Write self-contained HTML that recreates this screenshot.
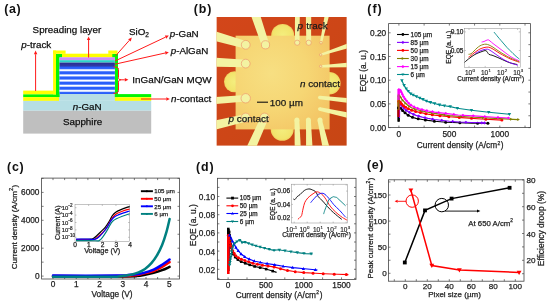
<!DOCTYPE html>
<html><head><meta charset="utf-8"><style>
html,body{margin:0;padding:0;background:#fff;}
svg{display:block;will-change:transform;}
text{font-family:"Liberation Sans", sans-serif;}
</style></head><body>
<svg width="550" height="303" viewBox="0 0 550 303" font-family='"Liberation Sans", sans-serif'>
<rect width="550" height="303" fill="#fff"/>
<g id="pa">
<text x="4.2" y="13.2" font-size="12.4" font-weight="bold" fill="#111" letter-spacing="0.7" >(a)</text>
<rect x="23.2" y="110.5" width="128" height="23.1" fill="#bfbfbf"/>
<rect x="23.2" y="100.4" width="128" height="10.2" fill="#b6dee4"/>
<rect x="56" y="93.5" width="62" height="7.2" fill="#b6dee4"/>
<rect x="23.2" y="90.6" width="33" height="3.9" fill="#ffff00"/>
<rect x="23.2" y="94.4" width="36" height="2.8" fill="#04f404"/>
<rect x="23.2" y="97.1" width="35.8" height="3.7" fill="#ffff00"/>
<rect x="53.1" y="50.5" width="3.0" height="44" fill="#ffff00"/>
<rect x="53.1" y="50.5" width="12.5" height="3.3" fill="#ffff00"/>
<rect x="56.0" y="54.0" width="3.5" height="43" fill="#04f404"/>
<rect x="56.0" y="54.0" width="6.0" height="3.4" fill="#04f404"/>
<rect x="62" y="53.7" width="55.5" height="3.7" fill="#ffff00"/>
<rect x="108.3" y="50.5" width="9.2" height="3.3" fill="#ffff00"/>
<rect x="112.3" y="54.0" width="5.7" height="3.4" fill="#04f404"/>
<rect x="114.9" y="54.0" width="3.1" height="43" fill="#04f404"/>
<rect x="114.9" y="94.1" width="36.3" height="3.1" fill="#04f404"/>
<rect x="114.9" y="97.2" width="36.3" height="3.6" fill="#ffff00"/>
<rect x="59.5" y="57.3" width="55.4" height="3.0" fill="#cc8ef6"/>
<rect x="59.5" y="60.2" width="55.4" height="2.4" fill="#2cd4c8"/>
<defs><linearGradient id="nv" x1="0" y1="0" x2="0" y2="1"><stop offset="0" stop-color="#2a2c8e"/><stop offset="0.7" stop-color="#2e3aa6"/><stop offset="1" stop-color="#2a58f0"/></linearGradient></defs>
<rect x="59.5" y="62.6" width="55.4" height="4.6" fill="url(#nv)"/>
<rect x="59.5" y="67.0" width="55.4" height="27.0" fill="#285efa"/>
<rect x="59.5" y="68.90" width="55.4" height="2.6" fill="#8fb0ff"/>
<rect x="59.5" y="69.50" width="55.4" height="1.4" fill="#ffffff"/>
<rect x="59.5" y="74.10" width="55.4" height="2.6" fill="#8fb0ff"/>
<rect x="59.5" y="74.70" width="55.4" height="1.4" fill="#ffffff"/>
<rect x="59.5" y="79.30" width="55.4" height="2.6" fill="#8fb0ff"/>
<rect x="59.5" y="79.90" width="55.4" height="1.4" fill="#ffffff"/>
<rect x="59.5" y="84.40" width="55.4" height="2.6" fill="#8fb0ff"/>
<rect x="59.5" y="85.00" width="55.4" height="1.4" fill="#ffffff"/>
<rect x="59.5" y="89.50" width="55.4" height="2.6" fill="#8fb0ff"/>
<rect x="59.5" y="90.10" width="55.4" height="1.4" fill="#ffffff"/>
<text x="32.6" y="33.1" font-size="9.8" stroke="#222" stroke-width="0.25" >Spreading layer</text>
<text x="21.3" y="48.4" font-size="9.8" stroke="#222" stroke-width="0.25" ><tspan font-style="italic">p</tspan>-track</text>
<text x="129" y="34.9" font-size="9.8" stroke="#222" stroke-width="0.25" >SiO<tspan font-size="6.5" dy="2.4">2</tspan></text>
<text x="169.8" y="36.9" font-size="9.8" stroke="#222" stroke-width="0.25" ><tspan font-style="italic">p</tspan>-GaN</text>
<text x="170.7" y="53.7" font-size="9.8" stroke="#222" stroke-width="0.25" ><tspan font-style="italic">p</tspan>-AlGaN</text>
<text x="132.3" y="83.1" font-size="9.85" stroke="#222" stroke-width="0.25" >InGaN/GaN MQW</text>
<text x="171.0" y="102.1" font-size="9.8" stroke="#222" stroke-width="0.25" ><tspan font-style="italic">n</tspan>-contact</text>
<text x="87.2" y="109.8" font-size="9.8" text-anchor="middle" stroke="#222" stroke-width="0.25" ><tspan font-style="italic">n</tspan>-GaN</text>
<text x="82.6" y="125.4" font-size="9.8" text-anchor="middle" stroke="#222" stroke-width="0.25" >Sapphire</text>
<path d="M88.60,57.50 L88.60,40.00" stroke="#ff1a1a" stroke-width="1.0" fill="none"/>
<path d="M88.60,36.40 L90.30,40.00 L86.90,40.00Z" fill="#ff1a1a"/>
<path d="M35.60,91.00 L35.60,54.20" stroke="#ff1a1a" stroke-width="1.0" fill="none"/>
<path d="M35.60,50.60 L37.30,54.20 L33.90,54.20Z" fill="#ff1a1a"/>
<path d="M115.60,55.80 L129.41,40.29" stroke="#ff1a1a" stroke-width="1.0" fill="none"/>
<path d="M131.80,37.60 L130.68,41.42 L128.14,39.16Z" fill="#ff1a1a"/>
<path d="M115.00,61.00 L165.54,37.14" stroke="#ff1a1a" stroke-width="1.0" fill="none"/>
<path d="M168.80,35.60 L166.27,38.67 L164.82,35.60Z" fill="#ff1a1a"/>
<path d="M115.00,64.20 L165.29,52.98" stroke="#ff1a1a" stroke-width="1.0" fill="none"/>
<path d="M168.80,52.20 L165.66,54.64 L164.92,51.32Z" fill="#ff1a1a"/>
<path d="M141.00,99.00 L166.30,99.00" stroke="#ff1a1a" stroke-width="1.0" fill="none"/>
<path d="M169.90,99.00 L166.30,100.70 L166.30,97.30Z" fill="#ff1a1a"/>
<path d="M113.5,66.8 C116.5,66.8 118.5,67.2 118.5,69.5 L118.5,77.5 C118.5,79.5 119.5,79.8 121,79.8 C119.5,79.8 118.5,80.2 118.5,82.2 L118.5,90.5 C118.5,92.8 116.5,93.4 113.5,93.4" stroke="#ff1a1a" stroke-width="1.0" fill="none"/>
<path d="M120.80,79.80 L124.80,79.80" stroke="#ff1a1a" stroke-width="1.0" fill="none"/>
<path d="M128.40,79.80 L124.80,81.50 L124.80,78.10Z" fill="#ff1a1a"/>
</g>
<g id="pb">
<text x="193.7" y="13.4" font-size="12.4" font-weight="bold" fill="#111" letter-spacing="0.9" >(b)</text>
<defs><clipPath id="cpb"><rect x="216.4" y="16.9" width="130.4" height="128.9"/></clipPath><linearGradient id="bgb" x1="0" y1="0" x2="1" y2="1"><stop offset="0" stop-color="#d3461a"/><stop offset="1" stop-color="#c74614"/></linearGradient><radialGradient id="msb" cx="0.38" cy="0.4" r="0.78"><stop offset="0" stop-color="#f7df82"/><stop offset="0.5" stop-color="#f6d674"/><stop offset="1" stop-color="#f3c262"/></radialGradient><radialGradient id="blb" cx="0.5" cy="0.5" r="0.5"><stop offset="0" stop-color="#f4ee7e"/><stop offset="0.85" stop-color="#f2e46c"/><stop offset="1" stop-color="#f0d060"/></radialGradient></defs>
<g clip-path="url(#cpb)">
<rect x="216.4" y="16.9" width="130.4" height="128.9" fill="url(#bgb)"/>
<circle cx="282.7" cy="35.5" r="11.5" fill="url(#blb)"/>
<circle cx="234.5" cy="81.8" r="10.5" fill="url(#blb)"/>
<circle cx="329.3" cy="83.2" r="11.3" fill="url(#blb)"/>
<circle cx="282.2" cy="129.3" r="11.5" fill="url(#blb)"/>
<rect x="235.6" y="35.7" width="94.0" height="93.7" fill="url(#msb)"/>
<path d="M210.68,39.82 L244.67,48.41 L246.73,41.19 L213.32,30.58Z" fill="#f3f3a2"/>
<path d="M211.80,66.60 L245.53,67.35 L245.87,59.85 L212.20,57.60Z" fill="#f3f3a2"/>
<path d="M250.23,13.43 L261.94,45.99 L269.06,43.61 L258.77,10.57Z" fill="#f3f3a2"/>
<path d="M212.25,104.19 L245.93,101.54 L245.47,95.06 L211.75,97.21Z" fill="#f3f3a2"/>
<path d="M213.04,130.18 L246.57,121.45 L244.83,114.15 L210.96,121.42Z" fill="#f3f3a2"/>
<path d="M254.31,151.84 L268.02,119.33 L261.18,116.27 L246.09,148.16Z" fill="#f3f3a2"/>
<path d="M295.00,11.98 L294.90,42.69 L299.50,42.71 L299.80,12.02Z" fill="#f3f3a2"/>
<path d="M305.80,12.02 L306.30,42.72 L311.10,42.68 L311.20,11.98Z" fill="#f3f3a2"/>
<path d="M325.35,11.52 L319.92,42.47 L322.08,42.93 L329.85,12.48Z" fill="#f3f3a2"/>
<path d="M351.19,42.03 L320.39,53.85 L321.01,55.75 L352.81,46.97Z" fill="#f3f3a2"/>
<path d="M351.88,62.30 L320.64,65.20 L320.76,67.40 L352.12,67.10Z" fill="#f3f3a2"/>
<path d="M352.27,98.51 L319.88,95.81 L319.52,99.19 L351.73,103.49Z" fill="#f3f3a2"/>
<path d="M352.59,113.41 L320.06,107.34 L319.34,110.66 L351.41,118.79Z" fill="#f3f3a2"/>
<path d="M300.90,149.91 L299.30,120.03 L294.50,120.17 L294.70,150.09Z" fill="#f3f3a2"/>
<path d="M312.70,149.89 L310.80,120.02 L306.00,120.18 L306.10,150.11Z" fill="#f3f3a2"/>
<path d="M330.01,149.21 L321.89,119.59 L317.51,120.61 L323.19,150.79Z" fill="#f3f3a2"/>
<circle cx="245.7" cy="44.8" r="4.4" fill="#f3f3a2" stroke="#ec8a66" stroke-width="0.6"/>
<circle cx="245.7" cy="63.6" r="4.4" fill="#f3f3a2" stroke="#ec8a66" stroke-width="0.6"/>
<circle cx="265.5" cy="44.8" r="4.1" fill="#f3f3a2" stroke="#ec8a66" stroke-width="0.6"/>
<circle cx="245.7" cy="98.3" r="4.7" fill="#f3f3a2" stroke="#ec8a66" stroke-width="0.6"/>
<circle cx="245.7" cy="117.8" r="4.7" fill="#f3f3a2" stroke="#ec8a66" stroke-width="0.6"/>
<circle cx="264.6" cy="117.8" r="4.7" fill="#f3f3a2" stroke="#ec8a66" stroke-width="0.6"/>
<circle cx="297.2" cy="42.7" r="2.6" fill="#f3f3a2" stroke="#ec8a66" stroke-width="0.6"/>
<circle cx="308.7" cy="42.7" r="2.6" fill="#f3f3a2" stroke="#ec8a66" stroke-width="0.6"/>
<circle cx="321.0" cy="42.7" r="1.3" fill="#f3f3a2" stroke="#ec8a66" stroke-width="0.6"/>
<circle cx="320.7" cy="54.8" r="1.2" fill="#f3f3a2" stroke="#ec8a66" stroke-width="0.6"/>
<circle cx="320.7" cy="66.3" r="1.2" fill="#f3f3a2" stroke="#ec8a66" stroke-width="0.6"/>
<circle cx="319.7" cy="97.5" r="1.7" fill="#f3f3a2"/>
<circle cx="319.7" cy="109.0" r="1.7" fill="#f3f3a2"/>
<circle cx="296.9" cy="120.1" r="2.5" fill="#f3f3a2"/>
<circle cx="308.4" cy="120.1" r="2.5" fill="#f3f3a2"/>
<circle cx="320.0" cy="120.1" r="2.5" fill="#f3f3a2"/>
</g>
<text x="297.6" y="29.2" font-size="9.9" fill="#1a1a1a" stroke="#1a1a1a" stroke-width="0.25" word-spacing="0.5"><tspan font-style="italic">p</tspan> track</text>
<text x="299.9" y="87.0" font-size="9.9" fill="#1a1a1a" stroke="#1a1a1a" stroke-width="0.25" ><tspan font-style="italic">n</tspan> contact</text>
<text x="228.6" y="122.4" font-size="9.9" fill="#1a1a1a" stroke="#1a1a1a" stroke-width="0.25" ><tspan font-style="italic">p</tspan> contact</text>
<path d="M257.0,102.2 H268.0" stroke="#111" stroke-width="1.1"/>
<text x="269.8" y="105.8" font-size="9.9" fill="#1a1a1a" stroke="#1a1a1a" stroke-width="0.25" >100 µm</text>
</g>
<g id="pc">
<text x="7.1" y="170.6" font-size="12.4" font-weight="bold" fill="#111" letter-spacing="0.7" >(c)</text>
<rect x="41.6" y="178.1" width="137.9" height="100.9" fill="none" stroke="#444" stroke-width="0.8"/>
<path d="M41.6,276.10 h2.0 M179.5,276.10 h-2.0 M41.6,262.15 h2.0 M179.5,262.15 h-2.0 M41.6,248.20 h2.0 M179.5,248.20 h-2.0 M41.6,234.25 h2.0 M179.5,234.25 h-2.0 M41.6,220.30 h2.0 M179.5,220.30 h-2.0 M41.6,206.35 h2.0 M179.5,206.35 h-2.0 M41.6,192.40 h2.0 M179.5,192.40 h-2.0 M41.6,178.45 h2.0 M179.5,178.45 h-2.0 " stroke="#444" stroke-width="0.7" fill="none"/>
<path d="M53.00,279.0 v-2.0 M53.00,178.1 v2.0 M64.62,279.0 v-2.0 M64.62,178.1 v2.0 M76.25,279.0 v-2.0 M76.25,178.1 v2.0 M87.88,279.0 v-2.0 M87.88,178.1 v2.0 M99.50,279.0 v-2.0 M99.50,178.1 v2.0 M111.12,279.0 v-2.0 M111.12,178.1 v2.0 M122.75,279.0 v-2.0 M122.75,178.1 v2.0 M134.38,279.0 v-2.0 M134.38,178.1 v2.0 M146.00,279.0 v-2.0 M146.00,178.1 v2.0 M157.62,279.0 v-2.0 M157.62,178.1 v2.0 M169.25,279.0 v-2.0 M169.25,178.1 v2.0 " stroke="#444" stroke-width="0.7" fill="none"/>
<text x="39.5" y="279.1" font-size="8.3" text-anchor="end" fill="#1e1e1e" stroke="#1e1e1e" stroke-width="0.25" >0</text>
<text x="39.5" y="251.20000000000002" font-size="8.3" text-anchor="end" fill="#1e1e1e" stroke="#1e1e1e" stroke-width="0.25" >2000</text>
<text x="39.5" y="223.3" font-size="8.3" text-anchor="end" fill="#1e1e1e" stroke="#1e1e1e" stroke-width="0.25" >4000</text>
<text x="39.5" y="195.40000000000003" font-size="8.3" text-anchor="end" fill="#1e1e1e" stroke="#1e1e1e" stroke-width="0.25" >6000</text>
<text x="53.0" y="287.4" font-size="8.3" text-anchor="middle" fill="#1e1e1e" stroke="#1e1e1e" stroke-width="0.25" >0</text>
<text x="76.25" y="287.4" font-size="8.3" text-anchor="middle" fill="#1e1e1e" stroke="#1e1e1e" stroke-width="0.25" >1</text>
<text x="99.5" y="287.4" font-size="8.3" text-anchor="middle" fill="#1e1e1e" stroke="#1e1e1e" stroke-width="0.25" >2</text>
<text x="122.75" y="287.4" font-size="8.3" text-anchor="middle" fill="#1e1e1e" stroke="#1e1e1e" stroke-width="0.25" >3</text>
<text x="146.0" y="287.4" font-size="8.3" text-anchor="middle" fill="#1e1e1e" stroke="#1e1e1e" stroke-width="0.25" >4</text>
<text x="169.25" y="287.4" font-size="8.3" text-anchor="middle" fill="#1e1e1e" stroke="#1e1e1e" stroke-width="0.25" >5</text>
<text x="112.0" y="296.8" font-size="8.3" text-anchor="middle" fill="#1e1e1e" stroke="#1e1e1e" stroke-width="0.25" >Voltage (V)</text>
<text x="17.0" y="227.0" font-size="8.1" text-anchor="middle" fill="#1e1e1e" stroke="#1e1e1e" stroke-width="0.25" transform="rotate(-90 17.0 227.0)" >Current density (A/cm<tspan font-size="5.0" dy="-3.6" dx="0.3">2</tspan><tspan dy="3.6" dx="0.6">)</tspan></text>
<path d="M53.00,276.40 C65.50,276.40 114.17,276.47 128.00,276.40 C141.83,276.33 133.33,276.25 136.00,276.00 C138.67,275.75 141.07,275.42 144.00,274.90 C146.93,274.38 150.58,273.68 153.60,272.90 C156.62,272.12 159.43,271.20 162.10,270.20 C164.77,269.20 168.35,267.45 169.60,266.90" stroke="#000000" stroke-width="2.5" fill="none" stroke-linejoin="round" stroke-linecap="round"/>
<path d="M53.00,276.10 C64.50,276.10 109.00,276.18 122.00,276.10 C135.00,276.02 128.00,275.88 131.00,275.60 C134.00,275.32 137.33,274.85 140.00,274.40 C142.67,273.95 144.73,273.47 147.00,272.90 C149.27,272.33 151.08,272.00 153.60,271.00 C156.12,270.00 159.43,268.38 162.10,266.90 C164.77,265.42 168.35,262.90 169.60,262.10" stroke="#ff0000" stroke-width="2.5" fill="none" stroke-linejoin="round" stroke-linecap="round"/>
<path d="M53.00,275.60 C63.83,275.60 105.50,275.68 118.00,275.60 C130.50,275.52 125.00,275.33 128.00,275.10 C131.00,274.87 133.52,274.53 136.00,274.20 C138.48,273.87 139.97,273.87 142.90,273.10 C145.83,272.33 150.40,271.00 153.60,269.60 C156.80,268.20 159.43,266.38 162.10,264.70 C164.77,263.02 168.35,260.37 169.60,259.50" stroke="#0000ff" stroke-width="2.5" fill="none" stroke-linejoin="round" stroke-linecap="round"/>
<path d="M53.00,276.80 C62.50,276.80 99.17,276.85 110.00,276.80 C120.83,276.75 115.33,276.70 118.00,276.50 C120.67,276.30 123.65,275.93 126.00,275.60 C128.35,275.27 130.00,275.03 132.10,274.50 C134.20,273.97 136.45,273.32 138.60,272.40 C140.75,271.48 142.87,270.53 145.00,269.00 C147.13,267.47 149.43,265.42 151.40,263.20 C153.37,260.98 155.02,258.73 156.80,255.70 C158.58,252.67 160.50,248.93 162.10,245.00 C163.70,241.07 165.15,236.43 166.40,232.10 C167.65,227.77 169.07,221.18 169.60,219.00" stroke="#008080" stroke-width="2.5" fill="none" stroke-linejoin="round" stroke-linecap="round"/>
<path d="M140.9,191.2 H152.9" stroke="#000000" stroke-width="1.9"/>
<circle cx="146.90" cy="191.20" r="1.0" fill="#000000"/>
<text x="154.3" y="193.39999999999998" font-size="6.1" fill="#1e1e1e" stroke="#1e1e1e" stroke-width="0.25" >105 µm</text>
<path d="M140.9,198.8 H152.9" stroke="#ff0000" stroke-width="1.9"/>
<circle cx="146.90" cy="198.80" r="1.0" fill="#ff0000"/>
<text x="154.3" y="201.0" font-size="6.1" fill="#1e1e1e" stroke="#1e1e1e" stroke-width="0.25" >50 µm</text>
<path d="M140.9,206.3 H152.9" stroke="#0000ff" stroke-width="1.9"/>
<circle cx="146.90" cy="206.30" r="1.0" fill="#0000ff"/>
<text x="154.3" y="208.5" font-size="6.1" fill="#1e1e1e" stroke="#1e1e1e" stroke-width="0.25" >25 µm</text>
<path d="M140.9,213.9 H152.9" stroke="#008080" stroke-width="1.9"/>
<circle cx="146.90" cy="213.90" r="1.0" fill="#008080"/>
<text x="154.3" y="216.1" font-size="6.1" fill="#1e1e1e" stroke="#1e1e1e" stroke-width="0.25" >6 µm</text>
<rect x="75.0" y="204.5" width="54.599999999999994" height="36.900000000000006" fill="none" stroke="#8a8a8a" stroke-width="0.5"/>
<path d="M88.65,241.4 v-1.5 M88.65,204.5 v1.5 M102.30,241.4 v-1.5 M102.30,204.5 v1.5 M115.95,241.4 v-1.5 M115.95,204.5 v1.5 " stroke="#888" stroke-width="0.5" fill="none"/>
<path d="M75.0,207.70 h1.5 M129.6,207.70 h-1.5 M75.0,215.10 h1.5 M129.6,215.10 h-1.5 M75.0,222.50 h1.5 M129.6,222.50 h-1.5 M75.0,229.90 h1.5 M129.6,229.90 h-1.5 M75.0,237.30 h1.5 M129.6,237.30 h-1.5 " stroke="#888" stroke-width="0.5" fill="none"/>
<text x="61.8" y="209.80" font-size="5.9" fill="#1e1e1e" stroke="#1e1e1e" stroke-width="0.2">10<tspan font-size="4.6" dy="-2.5">-2</tspan></text>
<text x="61.8" y="217.20" font-size="5.9" fill="#1e1e1e" stroke="#1e1e1e" stroke-width="0.2">10<tspan font-size="4.6" dy="-2.5">-4</tspan></text>
<text x="61.8" y="224.60" font-size="5.9" fill="#1e1e1e" stroke="#1e1e1e" stroke-width="0.2">10<tspan font-size="4.6" dy="-2.5">-6</tspan></text>
<text x="61.8" y="232.00" font-size="5.9" fill="#1e1e1e" stroke="#1e1e1e" stroke-width="0.2">10<tspan font-size="4.6" dy="-2.5">-8</tspan></text>
<text x="61.8" y="239.40" font-size="5.9" fill="#1e1e1e" stroke="#1e1e1e" stroke-width="0.2">10<tspan font-size="4.6" dy="-2.5">-10</tspan></text>
<text x="75.0" y="247.0" font-size="6.6" text-anchor="middle" fill="#1e1e1e" stroke="#1e1e1e" stroke-width="0.25" >0</text>
<text x="88.75" y="247.0" font-size="6.6" text-anchor="middle" fill="#1e1e1e" stroke="#1e1e1e" stroke-width="0.25" >1</text>
<text x="102.5" y="247.0" font-size="6.6" text-anchor="middle" fill="#1e1e1e" stroke="#1e1e1e" stroke-width="0.25" >2</text>
<text x="116.25" y="247.0" font-size="6.6" text-anchor="middle" fill="#1e1e1e" stroke="#1e1e1e" stroke-width="0.25" >3</text>
<text x="130.0" y="247.0" font-size="6.6" text-anchor="middle" fill="#1e1e1e" stroke="#1e1e1e" stroke-width="0.25" >4</text>
<text x="102.2" y="253.3" font-size="7.3" text-anchor="middle" fill="#1e1e1e" stroke="#1e1e1e" stroke-width="0.25" >Voltage (V)</text>
<text x="59.6" y="222.7" font-size="7.0" text-anchor="middle" fill="#1e1e1e" stroke="#1e1e1e" stroke-width="0.25" transform="rotate(-90 59.6 222.7)" >Current (A)</text>
<path d="M76.00,239.60 C77.50,239.55 82.50,239.37 85.00,239.30 C87.50,239.23 89.62,239.32 91.00,239.20 C92.38,239.08 92.27,239.25 93.30,238.60 C94.33,237.95 95.88,236.50 97.20,235.30 C98.52,234.10 99.87,232.72 101.20,231.40 C102.53,230.08 103.88,229.05 105.20,227.40 C106.52,225.75 107.90,223.48 109.10,221.50 C110.30,219.52 111.30,217.05 112.40,215.50 C113.50,213.95 114.27,213.18 115.70,212.20 C117.13,211.22 119.02,210.45 121.00,209.60 C122.98,208.75 126.17,207.62 127.60,207.10 C129.03,206.58 129.27,206.60 129.60,206.50" stroke="#000000" stroke-width="1.2" fill="none"/>
<path d="M76.00,239.80 C78.00,239.77 84.90,239.68 88.00,239.60 C91.10,239.52 92.83,239.87 94.60,239.30 C96.37,238.73 97.28,237.30 98.60,236.20 C99.92,235.10 101.18,234.07 102.50,232.70 C103.82,231.33 105.28,229.77 106.50,228.00 C107.72,226.23 108.70,223.95 109.80,222.10 C110.90,220.25 111.90,218.32 113.10,216.90 C114.30,215.48 115.47,214.55 117.00,213.60 C118.53,212.65 120.20,211.97 122.30,211.20 C124.40,210.43 128.38,209.37 129.60,209.00" stroke="#ff0000" stroke-width="1.2" fill="none"/>
<path d="M76.00,239.20 C78.00,239.18 84.78,239.10 88.00,239.10 C91.22,239.10 93.32,239.72 95.30,239.20 C97.28,238.68 98.45,237.28 99.90,236.00 C101.35,234.72 102.68,233.15 104.00,231.50 C105.32,229.85 106.73,227.77 107.80,226.10 C108.87,224.43 109.42,222.93 110.40,221.50 C111.38,220.07 112.38,218.60 113.70,217.50 C115.02,216.40 116.65,215.67 118.30,214.90 C119.95,214.13 121.72,213.55 123.60,212.90 C125.48,212.25 128.60,211.32 129.60,211.00" stroke="#0000ff" stroke-width="1.2" fill="none"/>
<path d="M76.00,240.60 C78.33,240.60 86.42,240.57 90.00,240.60 C93.58,240.63 95.97,240.80 97.50,240.80 C99.03,240.80 98.37,241.18 99.20,240.60 C100.03,240.02 101.28,238.83 102.50,237.30 C103.72,235.77 105.28,233.38 106.50,231.40 C107.72,229.42 108.82,227.05 109.80,225.40 C110.78,223.75 111.30,222.60 112.40,221.50 C113.50,220.40 114.75,219.68 116.40,218.80 C118.05,217.92 120.10,217.05 122.30,216.20 C124.50,215.35 128.38,214.12 129.60,213.70" stroke="#008080" stroke-width="1.2" fill="none"/>
</g>
<g id="pd">
<text x="196.0" y="170.7" font-size="12.4" font-weight="bold" fill="#111" letter-spacing="0.9" >(d)</text>
<rect x="217.5" y="178.3" width="138.5" height="101.09999999999997" fill="none" stroke="#444" stroke-width="0.8"/>
<path d="M217.4,278.40 h2.0 M356.0,278.40 h-2.0 M217.4,269.30 h2.0 M356.0,269.30 h-2.0 M217.4,260.20 h2.0 M356.0,260.20 h-2.0 M217.4,251.10 h2.0 M356.0,251.10 h-2.0 M217.4,242.00 h2.0 M356.0,242.00 h-2.0 M217.4,232.90 h2.0 M356.0,232.90 h-2.0 M217.4,223.80 h2.0 M356.0,223.80 h-2.0 M217.4,214.70 h2.0 M356.0,214.70 h-2.0 M217.4,205.60 h2.0 M356.0,205.60 h-2.0 M217.4,196.50 h2.0 M356.0,196.50 h-2.0 M217.4,187.40 h2.0 M356.0,187.40 h-2.0 " stroke="#444" stroke-width="0.7" fill="none"/>
<path d="M228.10,279.4 v-2.0 M228.10,178.3 v2.0 M247.00,279.4 v-2.0 M247.00,178.3 v2.0 M265.90,279.4 v-2.0 M265.90,178.3 v2.0 M284.80,279.4 v-2.0 M284.80,178.3 v2.0 M303.70,279.4 v-2.0 M303.70,178.3 v2.0 M322.60,279.4 v-2.0 M322.60,178.3 v2.0 M341.50,279.4 v-2.0 M341.50,178.3 v2.0 " stroke="#444" stroke-width="0.7" fill="none"/>
<text x="215.0" y="272.7" font-size="8.3" text-anchor="end" fill="#1e1e1e" stroke="#1e1e1e" stroke-width="0.25" >0.02</text>
<text x="215.0" y="254.50000000000003" font-size="8.3" text-anchor="end" fill="#1e1e1e" stroke="#1e1e1e" stroke-width="0.25" >0.04</text>
<text x="215.0" y="236.30000000000004" font-size="8.3" text-anchor="end" fill="#1e1e1e" stroke="#1e1e1e" stroke-width="0.25" >0.06</text>
<text x="215.0" y="218.10000000000002" font-size="8.3" text-anchor="end" fill="#1e1e1e" stroke="#1e1e1e" stroke-width="0.25" >0.08</text>
<text x="215.0" y="199.9" font-size="8.3" text-anchor="end" fill="#1e1e1e" stroke="#1e1e1e" stroke-width="0.25" >0.10</text>
<text x="228.1" y="288.4" font-size="8.3" text-anchor="middle" fill="#1e1e1e" stroke="#1e1e1e" stroke-width="0.25" >0</text>
<text x="265.9" y="288.4" font-size="8.3" text-anchor="middle" fill="#1e1e1e" stroke="#1e1e1e" stroke-width="0.25" >500</text>
<text x="303.7" y="288.4" font-size="8.3" text-anchor="middle" fill="#1e1e1e" stroke="#1e1e1e" stroke-width="0.25" >1000</text>
<text x="341.5" y="288.4" font-size="8.3" text-anchor="middle" fill="#1e1e1e" stroke="#1e1e1e" stroke-width="0.25" >1500</text>
<text x="279.1" y="298.0" font-size="8.3" text-anchor="middle" fill="#1e1e1e" stroke="#1e1e1e" stroke-width="0.25" >Current density (A/cm<tspan font-size="5.0" dy="-3.6" dx="0.3">2</tspan><tspan dy="3.6" dx="0.6">)</tspan></text>
<text x="196.0" y="225.2" font-size="8.4" text-anchor="middle" fill="#1e1e1e" stroke="#1e1e1e" stroke-width="0.25" transform="rotate(-90 196.0 225.2)" >EQE (a. u.)</text>
<path d="M228.30,270.70 L228.30,229.00 L229.20,232.00 L230.50,243.00 L232.30,252.40 L235.60,257.70 L239.50,261.00 L246.10,263.60 L254.00,266.30 L263.30,268.30 L270.00,270.20 L276.60,272.40" stroke="#000" stroke-width="1.15" fill="none" stroke-linejoin="round"/>
<path d="M228.30,273.50 L228.30,235.40 L229.00,239.20 L230.80,246.00 L232.90,251.10 L235.60,255.70 L239.50,258.40 L246.10,261.00 L254.00,263.60 L263.30,265.40 L273.80,266.90 L285.70,270.10 L295.60,271.80 L303.80,272.60 L315.40,273.30 L324.50,273.80 L337.70,274.30 L348.40,274.60" stroke="#ff0000" stroke-width="1.15" fill="none" stroke-linejoin="round"/>
<path d="M229.00,262.00 L229.30,245.00 L229.60,235.30 L231.60,239.20 L234.20,244.50 L236.90,249.10 L240.80,253.70 L246.10,257.70 L254.00,261.00 L263.30,263.00 L273.80,264.60 L283.20,266.30 L293.10,267.60 L304.70,268.80 L317.50,270.00" stroke="#0000ff" stroke-width="1.15" fill="none" stroke-linejoin="round"/>
<path d="M229.60,265.00 L230.90,256.40 L232.30,248.50 L233.60,244.50 L235.60,242.50 L237.50,241.20 L239.50,240.30 L240.80,240.60 L242.20,242.80 L244.10,242.10 L246.10,242.50 L251.40,244.50 L258.00,246.50 L264.60,248.20 L273.80,250.40 L278.30,249.80 L284.90,250.80 L291.50,251.80 L297.20,252.60 L305.50,253.60 L312.60,253.90" stroke="#008080" stroke-width="1.15" fill="none" stroke-linejoin="round"/>
<rect x="227.0" y="229.0" width="2.6" height="42" fill="#000"/>
<rect x="227.0" y="236.0" width="2.6" height="38" fill="#ff0000"/>
<rect x="227.00" y="227.70" width="2.6" height="2.6" fill="#000"/><rect x="227.87" y="230.60" width="2.6" height="2.6" fill="#000"/><rect x="228.25" y="233.69" width="2.6" height="2.6" fill="#000"/><rect x="228.62" y="236.83" width="2.6" height="2.6" fill="#000"/><rect x="229.00" y="240.00" width="2.6" height="2.6" fill="#000"/><rect x="229.49" y="243.19" width="2.6" height="2.6" fill="#000"/><rect x="230.10" y="246.41" width="2.6" height="2.6" fill="#000"/><rect x="230.73" y="249.69" width="2.6" height="2.6" fill="#000"/><rect x="232.04" y="252.77" width="2.6" height="2.6" fill="#000"/><rect x="233.91" y="255.77" width="2.6" height="2.6" fill="#000"/><rect x="236.57" y="258.32" width="2.6" height="2.6" fill="#000"/><rect x="239.93" y="260.38" width="2.6" height="2.6" fill="#000"/><rect x="243.95" y="261.96" width="2.6" height="2.6" fill="#000"/><rect x="248.41" y="263.53" width="2.6" height="2.6" fill="#000"/><rect x="253.32" y="265.13" width="2.6" height="2.6" fill="#000"/><rect x="258.85" y="266.32" width="2.6" height="2.6" fill="#000"/><rect x="264.88" y="267.82" width="2.6" height="2.6" fill="#000"/><rect x="271.41" y="269.80" width="2.6" height="2.6" fill="#000"/>
<circle cx="228.30" cy="235.40" r="1.5" fill="#ff0000"/><circle cx="228.76" cy="237.89" r="1.5" fill="#ff0000"/><circle cx="229.32" cy="240.39" r="1.5" fill="#ff0000"/><circle cx="229.99" cy="242.92" r="1.5" fill="#ff0000"/><circle cx="230.67" cy="245.51" r="1.5" fill="#ff0000"/><circle cx="231.65" cy="248.07" r="1.5" fill="#ff0000"/><circle cx="232.73" cy="250.68" r="1.5" fill="#ff0000"/><circle cx="234.15" cy="253.23" r="1.5" fill="#ff0000"/><circle cx="235.76" cy="255.81" r="1.5" fill="#ff0000"/><circle cx="238.39" cy="257.63" r="1.5" fill="#ff0000"/><circle cx="241.44" cy="259.16" r="1.5" fill="#ff0000"/><circle cx="244.89" cy="260.52" r="1.5" fill="#ff0000"/><circle cx="248.68" cy="261.85" r="1.5" fill="#ff0000"/><circle cx="252.82" cy="263.21" r="1.5" fill="#ff0000"/><circle cx="257.43" cy="264.26" r="1.5" fill="#ff0000"/><circle cx="262.49" cy="265.24" r="1.5" fill="#ff0000"/><circle cx="268.03" cy="266.08" r="1.5" fill="#ff0000"/><circle cx="274.06" cy="266.97" r="1.5" fill="#ff0000"/><circle cx="280.48" cy="268.70" r="1.5" fill="#ff0000"/><circle cx="287.49" cy="270.41" r="1.5" fill="#ff0000"/><circle cx="295.23" cy="271.74" r="1.5" fill="#ff0000"/><circle cx="303.74" cy="272.59" r="1.5" fill="#ff0000"/><circle cx="313.04" cy="273.16" r="1.5" fill="#ff0000"/><circle cx="323.18" cy="273.73" r="1.5" fill="#ff0000"/><circle cx="334.24" cy="274.17" r="1.5" fill="#ff0000"/><circle cx="346.29" cy="274.54" r="1.5" fill="#ff0000"/>
<path d="M229.60,233.59 L231.31,236.54 L227.89,236.54Z" fill="#0000ff"/><path d="M231.06,236.44 L232.76,239.38 L229.35,239.38Z" fill="#0000ff"/><path d="M232.56,239.45 L234.26,242.39 L230.85,242.39Z" fill="#0000ff"/><path d="M234.12,242.63 L235.83,245.58 L232.42,245.58Z" fill="#0000ff"/><path d="M236.00,245.86 L237.70,248.80 L234.29,248.80Z" fill="#0000ff"/><path d="M238.31,249.06 L240.01,252.00 L236.60,252.00Z" fill="#0000ff"/><path d="M241.11,252.23 L242.81,255.17 L239.40,255.17Z" fill="#0000ff"/><path d="M244.76,254.98 L246.46,257.93 L243.05,257.93Z" fill="#0000ff"/><path d="M249.17,257.28 L250.88,260.22 L247.47,260.22Z" fill="#0000ff"/><path d="M254.30,259.36 L256.01,262.31 L252.60,262.31Z" fill="#0000ff"/><path d="M260.32,260.65 L262.03,263.60 L258.62,263.60Z" fill="#0000ff"/><path d="M267.09,261.87 L268.79,264.82 L265.38,264.82Z" fill="#0000ff"/><path d="M274.69,263.06 L276.39,266.00 L272.98,266.00Z" fill="#0000ff"/><path d="M283.15,264.59 L284.86,267.53 L281.45,267.53Z" fill="#0000ff"/><path d="M292.69,265.84 L294.39,268.79 L290.98,268.79Z" fill="#0000ff"/><path d="M303.39,266.96 L305.10,269.90 L301.69,269.90Z" fill="#0000ff"/><path d="M315.39,268.10 L317.09,271.04 L313.68,271.04Z" fill="#0000ff"/>
<path d="M229.60,266.70 L231.31,263.76 L227.89,263.76Z" fill="#008080"/><path d="M230.00,264.04 L231.71,261.09 L228.30,261.09Z" fill="#008080"/><path d="M230.41,261.35 L232.11,258.40 L228.70,258.40Z" fill="#008080"/><path d="M230.82,258.64 L232.52,255.69 L229.11,255.69Z" fill="#008080"/><path d="M231.29,255.91 L232.99,252.96 L229.58,252.96Z" fill="#008080"/><path d="M231.78,253.15 L233.48,250.21 L230.07,250.21Z" fill="#008080"/><path d="M232.27,250.37 L233.98,247.42 L230.57,247.42Z" fill="#008080"/><path d="M233.13,247.65 L234.84,244.70 L231.43,244.70Z" fill="#008080"/><path d="M234.58,245.22 L236.29,242.28 L232.88,242.28Z" fill="#008080"/><path d="M236.89,243.33 L238.59,240.38 L235.18,240.38Z" fill="#008080"/><path d="M239.69,242.05 L241.40,239.10 L237.99,239.10Z" fill="#008080"/><path d="M241.96,244.13 L243.67,241.18 L240.26,241.18Z" fill="#008080"/><path d="M245.05,243.99 L246.75,241.05 L243.34,241.05Z" fill="#008080"/><path d="M248.49,245.11 L250.19,242.16 L246.78,242.16Z" fill="#008080"/><path d="M252.09,246.41 L253.79,243.47 L250.38,243.47Z" fill="#008080"/><path d="M255.96,247.59 L257.66,244.64 L254.25,244.64Z" fill="#008080"/><path d="M260.07,248.74 L261.78,245.79 L258.37,245.79Z" fill="#008080"/><path d="M264.46,249.87 L266.16,246.92 L262.75,246.92Z" fill="#008080"/><path d="M269.11,250.98 L270.82,248.04 L267.41,248.04Z" fill="#008080"/><path d="M274.04,252.07 L275.75,249.13 L272.34,249.13Z" fill="#008080"/><path d="M279.36,251.67 L281.06,248.72 L277.65,248.72Z" fill="#008080"/><path d="M284.97,252.52 L286.68,249.57 L283.27,249.57Z" fill="#008080"/><path d="M290.92,253.42 L292.63,250.47 L289.22,250.47Z" fill="#008080"/><path d="M297.24,254.31 L298.94,251.36 L295.53,251.36Z" fill="#008080"/><path d="M303.94,255.12 L305.65,252.17 L302.24,252.17Z" fill="#008080"/><path d="M311.08,255.54 L312.79,252.60 L309.38,252.60Z" fill="#008080"/>
<path d="M226.4,198.1 H238.2" stroke="#000000" stroke-width="1.1"/>
<rect x="231.10" y="196.70" width="2.8" height="2.8" fill="#000000"/>
<text x="239.8" y="200.29999999999998" font-size="6.4" fill="#1e1e1e" stroke="#1e1e1e" stroke-width="0.25" >105 µm</text>
<path d="M226.4,205.8 H238.2" stroke="#ff0000" stroke-width="1.1"/>
<circle cx="232.50" cy="205.80" r="1.4" fill="#ff0000"/>
<text x="239.8" y="208.0" font-size="6.4" fill="#1e1e1e" stroke="#1e1e1e" stroke-width="0.25" >50 µm</text>
<path d="M226.4,213.5 H238.2" stroke="#0000ff" stroke-width="1.1"/>
<path d="M232.50,211.96 L234.04,214.62 L230.96,214.62Z" fill="#0000ff"/>
<text x="239.8" y="215.7" font-size="6.4" fill="#1e1e1e" stroke="#1e1e1e" stroke-width="0.25" >25 µm</text>
<path d="M226.4,221.5 H238.2" stroke="#008080" stroke-width="1.1"/>
<path d="M232.50,223.04 L234.04,220.38 L230.96,220.38Z" fill="#008080"/>
<text x="239.8" y="223.7" font-size="6.4" fill="#1e1e1e" stroke="#1e1e1e" stroke-width="0.25" >6 µm</text>
<rect x="291.5" y="184.2" width="56.0" height="38.80000000000001" fill="none" stroke="#8a8a8a" stroke-width="0.5"/>
<text x="290.2" y="193.4" font-size="6.6" text-anchor="end" fill="#1e1e1e" stroke="#1e1e1e" stroke-width="0.25" >0.06</text>
<text x="290.2" y="206.70000000000002" font-size="6.6" text-anchor="end" fill="#1e1e1e" stroke="#1e1e1e" stroke-width="0.25" >0.04</text>
<text x="290.2" y="219.9" font-size="6.6" text-anchor="end" fill="#1e1e1e" stroke="#1e1e1e" stroke-width="0.25" >0.02</text>
<path d="M291.5,191.10 h1.4 M347.5,191.10 h-1.4 M291.5,204.40 h1.4 M347.5,204.40 h-1.4 M291.5,217.60 h1.4 M347.5,217.60 h-1.4 " stroke="#888" stroke-width="0.5" fill="none"/>
<text x="285.80" y="231.6" font-size="6.5" fill="#1e1e1e" stroke="#1e1e1e" stroke-width="0.15">10<tspan font-size="4.4" dy="-3.0" dx="0.3">-1</tspan></text>
<text x="299.40" y="231.6" font-size="6.5" fill="#1e1e1e" stroke="#1e1e1e" stroke-width="0.15">10<tspan font-size="4.4" dy="-3.0" dx="0.3">0</tspan></text>
<text x="313.00" y="231.6" font-size="6.5" fill="#1e1e1e" stroke="#1e1e1e" stroke-width="0.15">10<tspan font-size="4.4" dy="-3.0" dx="0.3">1</tspan></text>
<text x="326.60" y="231.6" font-size="6.5" fill="#1e1e1e" stroke="#1e1e1e" stroke-width="0.15">10<tspan font-size="4.4" dy="-3.0" dx="0.3">2</tspan></text>
<text x="340.20" y="231.6" font-size="6.5" fill="#1e1e1e" stroke="#1e1e1e" stroke-width="0.15">10<tspan font-size="4.4" dy="-3.0" dx="0.3">3</tspan></text>
<path d="M294.20,223.0 v-1.4 M294.20,184.2 v1.4 M307.20,223.0 v-1.4 M307.20,184.2 v1.4 M320.20,223.0 v-1.4 M320.20,184.2 v1.4 M333.20,223.0 v-1.4 M333.20,184.2 v1.4 M346.20,223.0 v-1.4 M346.20,184.2 v1.4 " stroke="#888" stroke-width="0.5" fill="none"/>
<text x="316.6" y="237.4" font-size="6.6" text-anchor="middle" fill="#1e1e1e" stroke="#1e1e1e" stroke-width="0.25" >Current density (A/cm<tspan font-size="4.2" dy="-2.8" dx="0.2">2</tspan><tspan dy="2.8" dx="0.4">)</tspan></text>
<text x="274.9" y="204.2" font-size="6.3" text-anchor="middle" fill="#1e1e1e" stroke="#1e1e1e" stroke-width="0.25" transform="rotate(-90 274.9 204.2)" >EQE (a. u.)</text>
<path d="M293.30,199.00 C293.58,199.08 294.37,199.88 295.00,199.50 C295.63,199.12 296.27,197.52 297.10,196.70 C297.93,195.88 298.98,195.48 300.00,194.60 C301.02,193.72 302.28,192.20 303.20,191.40 C304.12,190.60 304.75,190.18 305.50,189.80 C306.25,189.42 306.95,189.23 307.70,189.10 C308.45,188.97 309.23,188.87 310.00,189.00 C310.77,189.13 311.42,189.50 312.30,189.90 C313.18,190.30 314.52,190.72 315.30,191.40 C316.08,192.08 316.50,193.12 317.00,194.00 C317.50,194.88 317.72,195.87 318.30,196.70 C318.88,197.53 319.73,198.25 320.50,199.00 C321.27,199.75 322.15,200.40 322.90,201.20 C323.65,202.00 324.25,202.92 325.00,203.80 C325.75,204.68 326.48,205.50 327.40,206.50 C328.32,207.50 329.48,208.78 330.50,209.80 C331.52,210.82 332.33,211.57 333.50,212.60 C334.67,213.63 336.12,214.87 337.50,216.00 C338.88,217.13 341.08,218.83 341.80,219.40" stroke="#000" stroke-width="0.9" fill="none"/>
<path d="M297.90,219.40 C298.25,219.05 299.38,217.93 300.00,217.30 C300.62,216.67 301.10,216.98 301.60,215.60 C302.10,214.22 302.48,211.15 303.00,209.00 C303.52,206.85 304.03,204.37 304.70,202.70 C305.37,201.03 306.25,200.00 307.00,199.00 C307.75,198.00 308.20,197.57 309.20,196.70 C310.20,195.83 311.73,194.62 313.00,193.80 C314.27,192.98 315.63,191.93 316.80,191.80 C317.97,191.67 318.98,192.43 320.00,193.00 C321.02,193.57 321.90,194.13 322.90,195.20 C323.90,196.27 325.00,197.88 326.00,199.40 C327.00,200.92 327.73,202.62 328.90,204.30 C330.07,205.98 331.48,207.87 333.00,209.50 C334.52,211.13 336.42,212.77 338.00,214.10 C339.58,215.43 340.98,216.48 342.50,217.50 C344.02,218.52 346.33,219.75 347.10,220.20" stroke="#ff0000" stroke-width="0.9" fill="none"/>
<path d="M310.70,202.70 C311.00,202.32 311.87,201.15 312.50,200.40 C313.13,199.65 313.83,198.93 314.50,198.20 C315.17,197.47 315.87,196.63 316.50,196.00 C317.13,195.37 317.63,194.82 318.30,194.40 C318.97,193.98 319.73,193.68 320.50,193.50 C321.27,193.32 322.15,193.15 322.90,193.30 C323.65,193.45 324.25,193.83 325.00,194.40 C325.75,194.97 326.48,195.70 327.40,196.70 C328.32,197.70 329.48,199.13 330.50,200.40 C331.52,201.67 332.50,203.13 333.50,204.30 C334.50,205.47 335.48,206.40 336.50,207.40 C337.52,208.40 338.60,209.27 339.60,210.30 C340.60,211.33 341.50,212.45 342.50,213.60 C343.50,214.75 345.08,216.60 345.60,217.20" stroke="#0000ff" stroke-width="0.9" fill="none"/>
<path d="M323.60,214.10 C323.78,213.50 324.32,211.63 324.70,210.50 C325.08,209.37 325.45,208.47 325.90,207.30 C326.35,206.13 326.90,204.77 327.40,203.50 C327.90,202.23 328.30,200.62 328.90,199.70 C329.50,198.78 330.23,198.50 331.00,198.00 C331.77,197.50 332.83,196.83 333.50,196.70 C334.17,196.57 334.50,197.08 335.00,197.20 C335.50,197.32 335.83,197.00 336.50,197.40 C337.17,197.80 338.08,198.77 339.00,199.60 C339.92,200.43 340.90,201.37 342.00,202.40 C343.10,203.43 345.00,205.23 345.60,205.80" stroke="#008080" stroke-width="0.9" fill="none"/>
</g>
<g id="pe">
<text x="367.1" y="168.7" font-size="12.4" font-weight="bold" fill="#111" letter-spacing="0.6" >(e)</text>
<rect x="388.5" y="179.8" width="135.5" height="101.39999999999998" fill="none" stroke="#444" stroke-width="0.8"/>
<path d="M388.5,273.30 h2.0 M388.5,260.25 h2.0 M388.5,247.20 h2.0 M388.5,234.15 h2.0 M388.5,221.10 h2.0 M388.5,208.05 h2.0 M388.5,195.00 h2.0 M388.5,181.95 h2.0 " stroke="#444" stroke-width="0.7" fill="none"/>
<path d="M524.0,273.70 h-2.0 M524.0,260.30 h-2.0 M524.0,246.90 h-2.0 M524.0,233.50 h-2.0 M524.0,220.10 h-2.0 M524.0,206.70 h-2.0 M524.0,193.30 h-2.0 M524.0,179.90 h-2.0 " stroke="#444" stroke-width="0.7" fill="none"/>
<path d="M394.30,281.2 v-2.0 M394.30,179.8 v2.0 M405.30,281.2 v-2.0 M405.30,179.8 v2.0 M416.30,281.2 v-2.0 M416.30,179.8 v2.0 M427.30,281.2 v-2.0 M427.30,179.8 v2.0 M438.30,281.2 v-2.0 M438.30,179.8 v2.0 M449.30,281.2 v-2.0 M449.30,179.8 v2.0 M460.30,281.2 v-2.0 M460.30,179.8 v2.0 M471.30,281.2 v-2.0 M471.30,179.8 v2.0 M482.30,281.2 v-2.0 M482.30,179.8 v2.0 M493.30,281.2 v-2.0 M493.30,179.8 v2.0 M504.30,281.2 v-2.0 M504.30,179.8 v2.0 M515.30,281.2 v-2.0 M515.30,179.8 v2.0 " stroke="#444" stroke-width="0.7" fill="none"/>
<text x="386.8" y="276.3" font-size="8.1" text-anchor="end" fill="#1e1e1e" stroke="#1e1e1e" stroke-width="0.25" >0</text>
<text x="386.8" y="250.20000000000002" font-size="8.1" text-anchor="end" fill="#1e1e1e" stroke="#1e1e1e" stroke-width="0.25" >50</text>
<text x="386.8" y="224.10000000000002" font-size="8.1" text-anchor="end" fill="#1e1e1e" stroke="#1e1e1e" stroke-width="0.25" >100</text>
<text x="386.8" y="198.0" font-size="8.1" text-anchor="end" fill="#1e1e1e" stroke="#1e1e1e" stroke-width="0.25" >150</text>
<text x="526.4" y="263.3" font-size="8.1" fill="#1e1e1e" stroke="#1e1e1e" stroke-width="0.25" >20</text>
<text x="526.4" y="236.50000000000003" font-size="8.1" fill="#1e1e1e" stroke="#1e1e1e" stroke-width="0.25" >40</text>
<text x="526.4" y="209.70000000000002" font-size="8.1" fill="#1e1e1e" stroke="#1e1e1e" stroke-width="0.25" >60</text>
<text x="526.4" y="182.90000000000003" font-size="8.1" fill="#1e1e1e" stroke="#1e1e1e" stroke-width="0.25" >80</text>
<text x="405.3" y="289.4" font-size="8.1" text-anchor="middle" fill="#1e1e1e" stroke="#1e1e1e" stroke-width="0.25" >0</text>
<text x="427.3" y="289.4" font-size="8.1" text-anchor="middle" fill="#1e1e1e" stroke="#1e1e1e" stroke-width="0.25" >20</text>
<text x="449.3" y="289.4" font-size="8.1" text-anchor="middle" fill="#1e1e1e" stroke="#1e1e1e" stroke-width="0.25" >40</text>
<text x="471.3" y="289.4" font-size="8.1" text-anchor="middle" fill="#1e1e1e" stroke="#1e1e1e" stroke-width="0.25" >60</text>
<text x="493.3" y="289.4" font-size="8.1" text-anchor="middle" fill="#1e1e1e" stroke="#1e1e1e" stroke-width="0.25" >80</text>
<text x="515.3000000000001" y="289.4" font-size="8.1" text-anchor="middle" fill="#1e1e1e" stroke="#1e1e1e" stroke-width="0.25" >100</text>
<text x="454.6" y="296.8" font-size="8.0" text-anchor="middle" fill="#1e1e1e" stroke="#1e1e1e" stroke-width="0.25" >Pixel size (µm)</text>
<text x="373.4" y="228.0" font-size="7.9" text-anchor="middle" fill="#1e1e1e" stroke="#1e1e1e" stroke-width="0.25" transform="rotate(-90 373.4 228.0)" >Peak current density (A/cm<tspan font-size="4.9" dy="-3.5" dx="0.3">2</tspan><tspan dy="3.5" dx="0.6">)</tspan></text>
<text x="543.8" y="228.5" font-size="8.45" text-anchor="middle" fill="#1e1e1e" stroke="#1e1e1e" stroke-width="0.25" transform="rotate(-90 543.8 228.5)" >Efficiency droop (%)</text>
<path d="M404.80,262.50 L425.00,210.40 L451.60,198.60 L509.60,187.80" stroke="#000" stroke-width="1.5" fill="none"/>
<path d="M410.90,190.20 L431.80,265.50 L459.40,270.00 L519.10,272.50" stroke="#ff0000" stroke-width="1.5" fill="none"/>
<rect x="402.90" y="260.60" width="3.8" height="3.8" fill="#000"/>
<rect x="423.10" y="208.50" width="3.8" height="3.8" fill="#000"/>
<rect x="449.70" y="196.70" width="3.8" height="3.8" fill="#000"/>
<rect x="507.70" y="185.90" width="3.8" height="3.8" fill="#000"/>
<path d="M410.90,192.62 L413.32,188.44 L408.48,188.44Z" fill="#ff0000"/>
<path d="M431.80,267.92 L434.22,263.74 L429.38,263.74Z" fill="#ff0000"/>
<path d="M459.40,272.42 L461.82,268.24 L456.98,268.24Z" fill="#ff0000"/>
<path d="M519.10,274.92 L521.52,270.74 L516.68,270.74Z" fill="#ff0000"/>
<circle cx="412.2" cy="201.1" r="6.2" fill="none" stroke="#ff0000" stroke-width="1.0"/>
<path d="M406.20,201.30 L397.60,201.30" stroke="#ff0000" stroke-width="0.9" fill="none"/>
<path d="M394.60,201.30 L397.60,199.80 L397.60,202.80Z" fill="#ff0000"/>
<circle cx="441.8" cy="205.1" r="6.7" fill="none" stroke="#000" stroke-width="1.0"/>
<path d="M444.80,211.10 L477.00,211.10" stroke="#000" stroke-width="0.9" fill="none"/>
<path d="M480.40,211.10 L477.00,212.60 L477.00,209.60Z" fill="#000"/>
<text x="468.3" y="226.0" font-size="7.8" fill="#1e1e1e" stroke="#1e1e1e" stroke-width="0.25" >At 650 A/cm<tspan font-size="4.8" dy="-3.6">2</tspan></text>
</g>
<g id="pf">
<text x="367.3" y="12.9" font-size="12.4" font-weight="bold" fill="#111" letter-spacing="1.0" >(f)</text>
<rect x="388.6" y="23.6" width="141.79999999999995" height="104.0" fill="none" stroke="#444" stroke-width="0.8"/>
<path d="M388.6,127.60 h2.0 M530.4,127.60 h-2.0 M388.6,115.75 h2.0 M530.4,115.75 h-2.0 M388.6,103.90 h2.0 M530.4,103.90 h-2.0 M388.6,92.05 h2.0 M530.4,92.05 h-2.0 M388.6,80.20 h2.0 M530.4,80.20 h-2.0 M388.6,68.35 h2.0 M530.4,68.35 h-2.0 M388.6,56.50 h2.0 M530.4,56.50 h-2.0 M388.6,44.65 h2.0 M530.4,44.65 h-2.0 M388.6,32.80 h2.0 M530.4,32.80 h-2.0 " stroke="#444" stroke-width="0.7" fill="none"/>
<path d="M398.90,127.6 v-2.0 M398.90,23.6 v2.0 M424.12,127.6 v-2.0 M424.12,23.6 v2.0 M449.35,127.6 v-2.0 M449.35,23.6 v2.0 M474.57,127.6 v-2.0 M474.57,23.6 v2.0 M499.80,127.6 v-2.0 M499.80,23.6 v2.0 M525.02,127.6 v-2.0 M525.02,23.6 v2.0 " stroke="#444" stroke-width="0.7" fill="none"/>
<text x="386.2" y="130.6" font-size="8.3" text-anchor="end" fill="#1e1e1e" stroke="#1e1e1e" stroke-width="0.25" >0.00</text>
<text x="386.2" y="106.89999999999999" font-size="8.3" text-anchor="end" fill="#1e1e1e" stroke="#1e1e1e" stroke-width="0.25" >0.05</text>
<text x="386.2" y="83.19999999999999" font-size="8.3" text-anchor="end" fill="#1e1e1e" stroke="#1e1e1e" stroke-width="0.25" >0.10</text>
<text x="386.2" y="59.5" font-size="8.3" text-anchor="end" fill="#1e1e1e" stroke="#1e1e1e" stroke-width="0.25" >0.15</text>
<text x="386.2" y="35.79999999999998" font-size="8.3" text-anchor="end" fill="#1e1e1e" stroke="#1e1e1e" stroke-width="0.25" >0.20</text>
<text x="398.9" y="136.6" font-size="8.3" text-anchor="middle" fill="#1e1e1e" stroke="#1e1e1e" stroke-width="0.25" >0</text>
<text x="449.34999999999997" y="136.6" font-size="8.3" text-anchor="middle" fill="#1e1e1e" stroke="#1e1e1e" stroke-width="0.25" >500</text>
<text x="499.79999999999995" y="136.6" font-size="8.3" text-anchor="middle" fill="#1e1e1e" stroke="#1e1e1e" stroke-width="0.25" >1000</text>
<text x="460.2" y="148.2" font-size="8.3" text-anchor="middle" fill="#1e1e1e" stroke="#1e1e1e" stroke-width="0.25" >Current density (A/cm<tspan font-size="5.0" dy="-3.6" dx="0.3">2</tspan><tspan dy="3.6" dx="0.6">)</tspan></text>
<text x="366.2" y="70.8" font-size="8.4" text-anchor="middle" fill="#1e1e1e" stroke="#1e1e1e" stroke-width="0.25" transform="rotate(-90 366.2 70.8)" >EQE (a. u.)</text>
<rect x="397.4" y="107.7" width="2.5" height="14.0" fill="#000"/>
<rect x="397.4" y="101.1" width="2.5" height="15.9" fill="#ff0000"/>
<rect x="397.4" y="95.3" width="2.5" height="14.7" fill="#808000"/>
<rect x="397.4" y="89.5" width="2.5" height="10.5" fill="#ff00ff"/>
<path d="M398.50,121.50 L398.50,107.70 L400.00,107.70 L404.00,112.00 L407.50,114.80 L411.50,117.00 L416.00,118.40 L422.20,119.50 L428.00,120.40 L434.60,121.20 L446.10,122.20 L459.00,122.70 L472.00,123.10 L487.90,123.30" stroke="#000000" stroke-width="1.15" fill="none" stroke-linejoin="round"/>
<circle cx="398.50" cy="107.70" r="1.5" fill="#000000"/><circle cx="400.60" cy="108.34" r="1.5" fill="#000000"/><circle cx="402.57" cy="110.46" r="1.5" fill="#000000"/><circle cx="405.01" cy="112.81" r="1.5" fill="#000000"/><circle cx="408.21" cy="115.19" r="1.5" fill="#000000"/><circle cx="412.50" cy="117.31" r="1.5" fill="#000000"/><circle cx="418.18" cy="118.79" r="1.5" fill="#000000"/><circle cx="425.38" cy="119.99" r="1.5" fill="#000000"/><circle cx="434.39" cy="121.17" r="1.5" fill="#000000"/><circle cx="445.70" cy="122.16" r="1.5" fill="#000000"/><circle cx="459.86" cy="122.73" r="1.5" fill="#000000"/><circle cx="477.57" cy="123.17" r="1.5" fill="#000000"/><circle cx="487.90" cy="123.30" r="1.5" fill="#000000"/>
<path d="M399.50,118.00 L399.70,104.40 L400.80,104.40 L404.00,108.50 L407.50,111.30 L411.50,113.40 L416.00,115.40 L422.20,117.10 L428.00,118.40 L434.60,119.50 L449.40,121.20 L459.00,122.00 L471.40,122.50 L484.60,122.90" stroke="#8000ff" stroke-width="1.15" fill="none" stroke-linejoin="round"/>
<path d="M399.70,102.78 L401.32,104.40 L399.70,106.02 L398.08,104.40Z" fill="#8000ff"/><path d="M401.75,103.99 L403.37,105.61 L401.75,107.23 L400.13,105.61Z" fill="#8000ff"/><path d="M403.62,106.40 L405.24,108.02 L403.62,109.64 L402.00,108.02Z" fill="#8000ff"/><path d="M406.20,108.64 L407.82,110.26 L406.20,111.88 L404.58,110.26Z" fill="#8000ff"/><path d="M409.51,110.74 L411.13,112.36 L409.51,113.98 L407.89,112.36Z" fill="#8000ff"/><path d="M413.65,112.74 L415.27,114.36 L413.65,115.98 L412.03,114.36Z" fill="#8000ff"/><path d="M418.76,114.54 L420.38,116.16 L418.76,117.78 L417.14,116.16Z" fill="#8000ff"/><path d="M425.01,116.11 L426.63,117.73 L425.01,119.35 L423.39,117.73Z" fill="#8000ff"/><path d="M432.58,117.54 L434.20,119.16 L432.58,120.78 L430.96,119.16Z" fill="#8000ff"/><path d="M441.72,118.70 L443.34,120.32 L441.72,121.94 L440.10,120.32Z" fill="#8000ff"/><path d="M452.70,119.86 L454.32,121.48 L452.70,123.10 L451.08,121.48Z" fill="#8000ff"/><path d="M465.92,120.66 L467.54,122.28 L465.92,123.90 L464.30,122.28Z" fill="#8000ff"/><path d="M481.79,121.19 L483.41,122.81 L481.79,124.43 L480.17,122.81Z" fill="#8000ff"/><path d="M484.60,121.28 L486.22,122.90 L484.60,124.52 L482.98,122.90Z" fill="#8000ff"/>
<path d="M398.90,117.00 L398.90,101.10 L399.50,101.10 L402.00,104.50 L404.90,106.80 L408.00,108.70 L411.50,110.10 L416.00,111.60 L422.20,112.90 L428.00,114.10 L434.60,115.10 L449.40,116.70 L461.50,117.60 L481.30,119.00 L501.90,120.10" stroke="#ff0000" stroke-width="1.15" fill="none" stroke-linejoin="round"/>
<circle cx="398.90" cy="101.10" r="1.5" fill="#ff0000"/><circle cx="400.32" cy="102.21" r="1.5" fill="#ff0000"/><circle cx="401.64" cy="104.01" r="1.5" fill="#ff0000"/><circle cx="403.44" cy="105.64" r="1.5" fill="#ff0000"/><circle cx="405.66" cy="107.26" r="1.5" fill="#ff0000"/><circle cx="408.36" cy="108.84" r="1.5" fill="#ff0000"/><circle cx="411.69" cy="110.16" r="1.5" fill="#ff0000"/><circle cx="415.64" cy="111.48" r="1.5" fill="#ff0000"/><circle cx="420.35" cy="112.51" r="1.5" fill="#ff0000"/><circle cx="425.87" cy="113.66" r="1.5" fill="#ff0000"/><circle cx="432.34" cy="114.76" r="1.5" fill="#ff0000"/><circle cx="439.95" cy="115.68" r="1.5" fill="#ff0000"/><circle cx="448.86" cy="116.64" r="1.5" fill="#ff0000"/><circle cx="459.30" cy="117.44" r="1.5" fill="#ff0000"/><circle cx="471.53" cy="118.31" r="1.5" fill="#ff0000"/><circle cx="485.82" cy="119.24" r="1.5" fill="#ff0000"/><circle cx="501.90" cy="120.10" r="1.5" fill="#ff0000"/>
<path d="M398.90,110.00 L398.90,95.30 L399.50,95.30 L402.00,99.50 L404.90,102.70 L408.00,105.50 L411.50,107.70 L416.00,109.50 L422.20,111.00 L428.00,112.30 L434.60,113.40 L449.40,115.60 L470.00,117.00 L495.00,118.40 L518.40,119.60" stroke="#808000" stroke-width="1.15" fill="none" stroke-linejoin="round"/>
<path d="M400.38,95.30 L397.82,93.81 L397.82,96.78Z" fill="#808000"/><path d="M402.20,97.34 L399.63,95.85 L399.63,98.82Z" fill="#808000"/><path d="M404.15,100.24 L401.59,98.75 L401.59,101.72Z" fill="#808000"/><path d="M406.96,103.22 L404.40,101.74 L404.40,104.71Z" fill="#808000"/><path d="M410.79,106.32 L408.23,104.84 L408.23,107.81Z" fill="#808000"/><path d="M416.24,109.00 L413.67,107.52 L413.67,110.49Z" fill="#808000"/><path d="M423.69,111.00 L421.12,109.52 L421.12,112.49Z" fill="#808000"/><path d="M433.45,112.96 L430.88,111.48 L430.88,114.45Z" fill="#808000"/><path d="M446.19,114.90 L443.63,113.42 L443.63,116.39Z" fill="#808000"/><path d="M462.82,116.41 L460.26,114.93 L460.26,117.90Z" fill="#808000"/><path d="M484.48,117.73 L481.92,116.24 L481.92,119.21Z" fill="#808000"/><path d="M512.64,119.23 L510.08,117.74 L510.08,120.71Z" fill="#808000"/><path d="M519.88,119.60 L517.32,118.11 L517.32,121.08Z" fill="#808000"/>
<path d="M398.90,100.00 L398.90,89.50 L400.00,89.50 L401.50,92.50 L403.20,96.10 L405.50,99.70 L408.20,102.70 L411.00,105.20 L414.80,107.30 L418.00,108.60 L422.20,109.60 L428.00,111.00 L434.60,112.10 L449.40,113.90 L458.20,115.00 L478.00,116.10 L494.50,117.20 L508.50,118.00" stroke="#ff00ff" stroke-width="1.15" fill="none" stroke-linejoin="round"/>
<path d="M398.90,87.88 L400.52,89.50 L398.90,91.12 L397.28,89.50Z" fill="#ff00ff"/><path d="M400.40,88.67 L402.02,90.29 L400.40,91.91 L398.78,90.29Z" fill="#ff00ff"/><path d="M401.37,90.62 L402.99,92.24 L401.37,93.86 L399.75,92.24Z" fill="#ff00ff"/><path d="M402.36,92.71 L403.98,94.33 L402.36,95.95 L400.74,94.33Z" fill="#ff00ff"/><path d="M403.46,94.88 L405.08,96.50 L403.46,98.12 L401.84,96.50Z" fill="#ff00ff"/><path d="M404.85,97.06 L406.47,98.68 L404.85,100.30 L403.23,98.68Z" fill="#ff00ff"/><path d="M406.53,99.23 L408.15,100.85 L406.53,102.47 L404.91,100.85Z" fill="#ff00ff"/><path d="M408.57,101.41 L410.19,103.03 L408.57,104.65 L406.95,103.03Z" fill="#ff00ff"/><path d="M410.98,103.57 L412.60,105.19 L410.98,106.81 L409.36,105.19Z" fill="#ff00ff"/><path d="M414.10,105.29 L415.72,106.91 L414.10,108.53 L412.48,106.91Z" fill="#ff00ff"/><path d="M417.73,106.87 L419.35,108.49 L417.73,110.11 L416.11,108.49Z" fill="#ff00ff"/><path d="M422.03,107.94 L423.65,109.56 L422.03,111.18 L420.41,109.56Z" fill="#ff00ff"/><path d="M426.88,109.11 L428.50,110.73 L426.88,112.35 L425.26,110.73Z" fill="#ff00ff"/><path d="M432.41,110.12 L434.03,111.74 L432.41,113.36 L430.79,111.74Z" fill="#ff00ff"/><path d="M438.70,110.98 L440.32,112.60 L438.70,114.22 L437.08,112.60Z" fill="#ff00ff"/><path d="M445.80,111.84 L447.42,113.46 L445.80,115.08 L444.18,113.46Z" fill="#ff00ff"/><path d="M453.83,112.83 L455.45,114.45 L453.83,116.07 L452.21,114.45Z" fill="#ff00ff"/><path d="M462.91,113.64 L464.53,115.26 L462.91,116.88 L461.29,115.26Z" fill="#ff00ff"/><path d="M473.21,114.21 L474.83,115.83 L473.21,117.45 L471.59,115.83Z" fill="#ff00ff"/><path d="M484.83,114.94 L486.45,116.56 L484.83,118.18 L483.21,116.56Z" fill="#ff00ff"/><path d="M497.96,115.78 L499.58,117.40 L497.96,119.02 L496.34,117.40Z" fill="#ff00ff"/><path d="M508.50,116.38 L510.12,118.00 L508.50,119.62 L506.88,118.00Z" fill="#ff00ff"/>
<path d="M401.90,80.50 L404.10,85.40 L406.20,88.70 L408.20,91.20 L410.70,93.70 L413.10,95.00 L416.40,96.60 L419.70,98.10 L423.00,99.40 L426.30,101.10 L430.40,102.40 L434.60,103.50 L439.50,104.90 L444.40,105.70 L450.20,106.60 L457.30,108.30 L471.40,110.20 L488.70,112.20 L509.40,114.20" stroke="#008b8b" stroke-width="1.15" fill="none" stroke-linejoin="round"/>
<path d="M401.90,82.26 L403.66,79.22 L400.14,79.22Z" fill="#008b8b"/><path d="M404.10,87.16 L405.86,84.12 L402.34,84.12Z" fill="#008b8b"/><path d="M406.20,90.46 L407.96,87.42 L404.44,87.42Z" fill="#008b8b"/><path d="M408.20,92.96 L409.96,89.92 L406.44,89.92Z" fill="#008b8b"/><path d="M410.70,95.46 L412.46,92.42 L408.94,92.42Z" fill="#008b8b"/><path d="M413.10,96.76 L414.86,93.72 L411.34,93.72Z" fill="#008b8b"/><path d="M416.40,98.36 L418.16,95.32 L414.64,95.32Z" fill="#008b8b"/><path d="M419.70,99.86 L421.46,96.82 L417.94,96.82Z" fill="#008b8b"/><path d="M423.00,101.16 L424.76,98.12 L421.24,98.12Z" fill="#008b8b"/><path d="M426.30,102.86 L428.06,99.82 L424.54,99.82Z" fill="#008b8b"/><path d="M430.40,104.16 L432.16,101.12 L428.64,101.12Z" fill="#008b8b"/><path d="M434.60,105.26 L436.36,102.22 L432.84,102.22Z" fill="#008b8b"/><path d="M439.50,106.66 L441.26,103.62 L437.74,103.62Z" fill="#008b8b"/><path d="M444.40,107.46 L446.16,104.42 L442.64,104.42Z" fill="#008b8b"/><path d="M450.20,108.36 L451.96,105.32 L448.44,105.32Z" fill="#008b8b"/><path d="M457.30,110.06 L459.06,107.02 L455.54,107.02Z" fill="#008b8b"/><path d="M471.40,111.96 L473.16,108.92 L469.64,108.92Z" fill="#008b8b"/><path d="M488.70,113.96 L490.46,110.92 L486.94,110.92Z" fill="#008b8b"/><path d="M509.40,115.96 L511.16,112.92 L507.64,112.92Z" fill="#008b8b"/>
<path d="M397.0,34.5 H408.8" stroke="#000000" stroke-width="1.1"/>
<circle cx="402.90" cy="34.50" r="1.4" fill="#000000"/>
<text x="410.6" y="36.8" font-size="6.4" fill="#1e1e1e" stroke="#1e1e1e" stroke-width="0.25" >105 µm</text>
<path d="M397.0,42.4 H408.8" stroke="#8000ff" stroke-width="1.1"/>
<path d="M402.90,40.72 L404.58,42.40 L402.90,44.08 L401.22,42.40Z" fill="#8000ff"/>
<text x="410.6" y="44.699999999999996" font-size="6.4" fill="#1e1e1e" stroke="#1e1e1e" stroke-width="0.25" >85 µm</text>
<path d="M397.0,50.4 H408.8" stroke="#ff0000" stroke-width="1.1"/>
<circle cx="402.90" cy="50.40" r="1.4" fill="#ff0000"/>
<text x="410.6" y="52.699999999999996" font-size="6.4" fill="#1e1e1e" stroke="#1e1e1e" stroke-width="0.25" >50 µm</text>
<path d="M397.0,58.5 H408.8" stroke="#808000" stroke-width="1.1"/>
<path d="M404.44,58.50 L401.78,56.96 L401.78,60.04Z" fill="#808000"/>
<text x="410.6" y="60.8" font-size="6.4" fill="#1e1e1e" stroke="#1e1e1e" stroke-width="0.25" >30 µm</text>
<path d="M397.0,66.6 H408.8" stroke="#ff00ff" stroke-width="1.1"/>
<path d="M402.90,64.92 L404.58,66.60 L402.90,68.28 L401.22,66.60Z" fill="#ff00ff"/>
<text x="410.6" y="68.89999999999999" font-size="6.4" fill="#1e1e1e" stroke="#1e1e1e" stroke-width="0.25" >15 µm</text>
<path d="M397.0,74.5 H408.8" stroke="#008b8b" stroke-width="1.1"/>
<path d="M402.90,76.04 L404.44,73.38 L401.36,73.38Z" fill="#008b8b"/>
<text x="410.6" y="76.8" font-size="6.4" fill="#1e1e1e" stroke="#1e1e1e" stroke-width="0.25" >6 µm</text>
<rect x="464.5" y="28.6" width="55.700000000000045" height="38.699999999999996" fill="none" stroke="#8a8a8a" stroke-width="0.5"/>
<path d="M464.5,31.90 h1.4 M520.2,31.90 h-1.4 M464.5,50.50 h1.4 M520.2,50.50 h-1.4 " stroke="#888" stroke-width="0.5" fill="none"/>
<path d="M469.00,67.3 v-1.4 M469.00,28.6 v1.4 M485.20,67.3 v-1.4 M485.20,28.6 v1.4 M501.40,67.3 v-1.4 M501.40,28.6 v1.4 M517.60,67.3 v-1.4 M517.60,28.6 v1.4 " stroke="#888" stroke-width="0.5" fill="none"/>
<text x="463.4" y="34.2" font-size="6.5" text-anchor="end" fill="#1e1e1e" stroke="#1e1e1e" stroke-width="0.25" >0.10</text>
<text x="463.4" y="52.8" font-size="6.5" text-anchor="end" fill="#1e1e1e" stroke="#1e1e1e" stroke-width="0.25" >0.05</text>
<text x="464.90" y="75.1" font-size="6.5" fill="#1e1e1e" stroke="#1e1e1e" stroke-width="0.15">10<tspan font-size="4.4" dy="-3.0" dx="0.3">0</tspan></text>
<text x="481.00" y="75.1" font-size="6.5" fill="#1e1e1e" stroke="#1e1e1e" stroke-width="0.15">10<tspan font-size="4.4" dy="-3.0" dx="0.3">1</tspan></text>
<text x="497.10" y="75.1" font-size="6.5" fill="#1e1e1e" stroke="#1e1e1e" stroke-width="0.15">10<tspan font-size="4.4" dy="-3.0" dx="0.3">2</tspan></text>
<text x="513.20" y="75.1" font-size="6.5" fill="#1e1e1e" stroke="#1e1e1e" stroke-width="0.15">10<tspan font-size="4.4" dy="-3.0" dx="0.3">3</tspan></text>
<text x="490.8" y="80.7" font-size="6.4" text-anchor="middle" fill="#1e1e1e" stroke="#1e1e1e" stroke-width="0.25" >Current density (A/cm<tspan font-size="4.2" dy="-2.8" dx="0.2">2</tspan><tspan dy="2.8" dx="0.4">)</tspan></text>
<text x="450.6" y="47.2" font-size="6.6" text-anchor="middle" fill="#1e1e1e" stroke="#1e1e1e" stroke-width="0.25" transform="rotate(-90 450.6 47.2)" >EQE (a. u.)</text>
<path d="M464.60,62.30 C465.00,61.95 466.10,60.95 467.00,60.20 C467.90,59.45 468.83,58.67 470.00,57.80 C471.17,56.93 472.67,55.80 474.00,55.00 C475.33,54.20 476.67,53.58 478.00,53.00 C479.33,52.42 480.67,51.88 482.00,51.50 C483.33,51.12 484.85,50.23 486.00,50.70 C487.15,51.17 487.90,53.55 488.90,54.30 C489.90,55.05 490.82,54.78 492.00,55.20 C493.18,55.62 494.67,56.25 496.00,56.80 C497.33,57.35 498.50,57.83 500.00,58.50 C501.50,59.17 503.33,60.08 505.00,60.80 C506.67,61.52 507.97,62.18 510.00,62.80 C512.03,63.42 516.00,64.22 517.20,64.50" stroke="#000000" stroke-width="0.9" fill="none"/>
<path d="M475.00,53.50 C475.50,53.25 477.00,52.50 478.00,52.00 C479.00,51.50 480.00,50.90 481.00,50.50 C482.00,50.10 482.93,49.82 484.00,49.60 C485.07,49.38 486.40,49.08 487.40,49.20 C488.40,49.32 488.90,49.67 490.00,50.30 C491.10,50.93 492.67,52.08 494.00,53.00 C495.33,53.92 496.67,54.88 498.00,55.80 C499.33,56.72 500.50,57.58 502.00,58.50 C503.50,59.42 505.33,60.47 507.00,61.30 C508.67,62.13 510.17,62.85 512.00,63.50 C513.83,64.15 517.00,64.92 518.00,65.20" stroke="#8000ff" stroke-width="0.9" fill="none"/>
<path d="M468.50,57.20 C468.92,56.92 470.08,56.20 471.00,55.50 C471.92,54.80 473.00,53.78 474.00,53.00 C475.00,52.22 476.00,51.47 477.00,50.80 C478.00,50.13 478.83,49.53 480.00,49.00 C481.17,48.47 482.63,47.92 484.00,47.60 C485.37,47.28 486.87,46.95 488.20,47.10 C489.53,47.25 490.70,47.85 492.00,48.50 C493.30,49.15 494.67,50.17 496.00,51.00 C497.33,51.83 498.50,52.63 500.00,53.50 C501.50,54.37 503.33,55.32 505.00,56.20 C506.67,57.08 507.60,57.78 510.00,58.80 C512.40,59.82 517.83,61.72 519.40,62.30" stroke="#ff0000" stroke-width="0.9" fill="none"/>
<path d="M468.50,54.30 C468.92,54.22 470.08,54.35 471.00,53.80 C471.92,53.25 473.00,51.97 474.00,51.00 C475.00,50.03 476.00,48.87 477.00,48.00 C478.00,47.13 479.00,46.37 480.00,45.80 C481.00,45.23 482.00,44.87 483.00,44.60 C484.00,44.33 485.00,44.13 486.00,44.20 C487.00,44.27 487.83,44.50 489.00,45.00 C490.17,45.50 491.67,46.37 493.00,47.20 C494.33,48.03 495.67,49.10 497.00,50.00 C498.33,50.90 499.67,51.77 501.00,52.60 C502.33,53.43 503.50,54.13 505.00,55.00 C506.50,55.87 507.60,56.70 510.00,57.80 C512.40,58.90 517.83,60.97 519.40,61.60" stroke="#808000" stroke-width="0.9" fill="none"/>
<path d="M481.60,42.00 C482.00,41.92 483.27,41.75 484.00,41.50 C484.73,41.25 485.30,40.78 486.00,40.50 C486.70,40.22 487.53,39.72 488.20,39.80 C488.87,39.88 489.20,40.38 490.00,41.00 C490.80,41.62 491.83,42.58 493.00,43.50 C494.17,44.42 495.67,45.50 497.00,46.50 C498.33,47.50 499.67,48.50 501.00,49.50 C502.33,50.50 503.67,51.50 505.00,52.50 C506.33,53.50 507.67,54.58 509.00,55.50 C510.33,56.42 511.27,57.10 513.00,58.00 C514.73,58.90 518.33,60.42 519.40,60.90" stroke="#ff00ff" stroke-width="0.9" fill="none"/>
<path d="M494.00,32.10 C494.33,32.50 495.33,33.68 496.00,34.50 C496.67,35.32 497.17,36.00 498.00,37.00 C498.83,38.00 500.00,39.33 501.00,40.50 C502.00,41.67 503.00,42.83 504.00,44.00 C505.00,45.17 506.00,46.42 507.00,47.50 C508.00,48.58 509.00,49.50 510.00,50.50 C511.00,51.50 512.00,52.53 513.00,53.50 C514.00,54.47 514.93,55.37 516.00,56.30 C517.07,57.23 518.83,58.63 519.40,59.10" stroke="#008b8b" stroke-width="0.9" fill="none"/>
</g>
</svg>
</body></html>
